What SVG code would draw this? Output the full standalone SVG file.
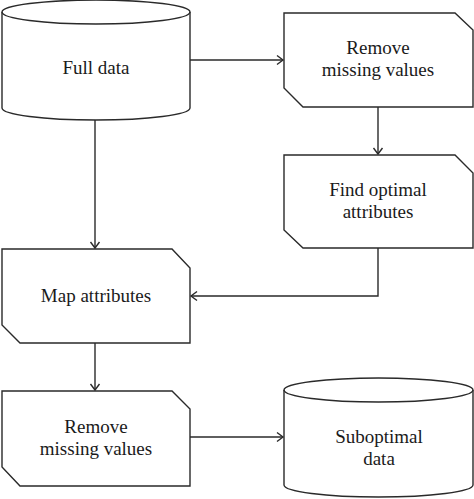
<svg xmlns="http://www.w3.org/2000/svg" width="474" height="499" viewBox="0 0 474 499">
<style>
.s{fill:#fff;stroke:#2a2a2a;stroke-width:1.4}
.c{fill:none;stroke:#2a2a2a;stroke-width:1.4}
text{font-family:"Liberation Serif","Times New Roman",serif;font-size:19px;fill:#1a1a1a;text-anchor:middle}
</style>
<defs>
<marker id="a" markerWidth="12" markerHeight="12" refX="9" refY="6" orient="auto" markerUnits="userSpaceOnUse">
<polyline points="3,1.5 9,6 3,10.5" fill="none" stroke="#2a2a2a" stroke-width="1.4"/>
</marker>
</defs>
<rect width="474" height="499" fill="#fff"/>
<g id="connectors">
<line class="c" x1="190" y1="60" x2="283" y2="60" marker-end="url(#a)"/>
<line class="c" x1="378" y1="107" x2="378" y2="154" marker-end="url(#a)"/>
<polyline class="c" points="378,248 378,296 191,296" marker-end="url(#a)"/>
<line class="c" x1="95" y1="120" x2="95" y2="248" marker-end="url(#a)"/>
<line class="c" x1="95" y1="343" x2="95" y2="390" marker-end="url(#a)"/>
<line class="c" x1="190" y1="437" x2="283" y2="437" marker-end="url(#a)"/>
</g>
<g id="full-data">
<path class="s" d="M2,12 L2,108 A94,12 0 0 0 190,108 L190,12 A94,12 0 0 0 2,12 Z"/>
<path class="c" d="M2,12 A94,12 0 0 0 190,12"/>
<text x="96" y="74">Full data</text>
</g>
<g id="remove-missing-1">
<path class="s" d="M284,13 L455,13 L473,30 L473,107 L303,107 L284,88 Z"/>
<text x="378" y="54">Remove</text>
<text x="378" y="76">missing values</text>
</g>
<g id="find-optimal">
<path class="s" d="M284,155 L455,155 L473,173 L473,248 L303,248 L284,230 Z"/>
<text x="378" y="196">Find optimal</text>
<text x="378" y="218">attributes</text>
</g>
<g id="map-attributes">
<path class="s" d="M2,249 L172,249 L190,268 L190,343 L20,343 L2,325 Z"/>
<text x="96" y="302">Map attributes</text>
</g>
<g id="remove-missing-2">
<path class="s" d="M2,391 L172,391 L190,409 L190,486 L20,486 L2,467 Z"/>
<text x="96" y="433">Remove</text>
<text x="96" y="455">missing values</text>
</g>
<g id="suboptimal-data">
<path class="s" d="M284,390 L284,485 A94.5,12 0 0 0 473,485 L473,390 A94.5,12 0 0 0 284,390 Z"/>
<path class="c" d="M284,390 A94.5,12 0 0 0 473,390"/>
<text x="379" y="443">Suboptimal</text>
<text x="379" y="465">data</text>
</g>
</svg>
